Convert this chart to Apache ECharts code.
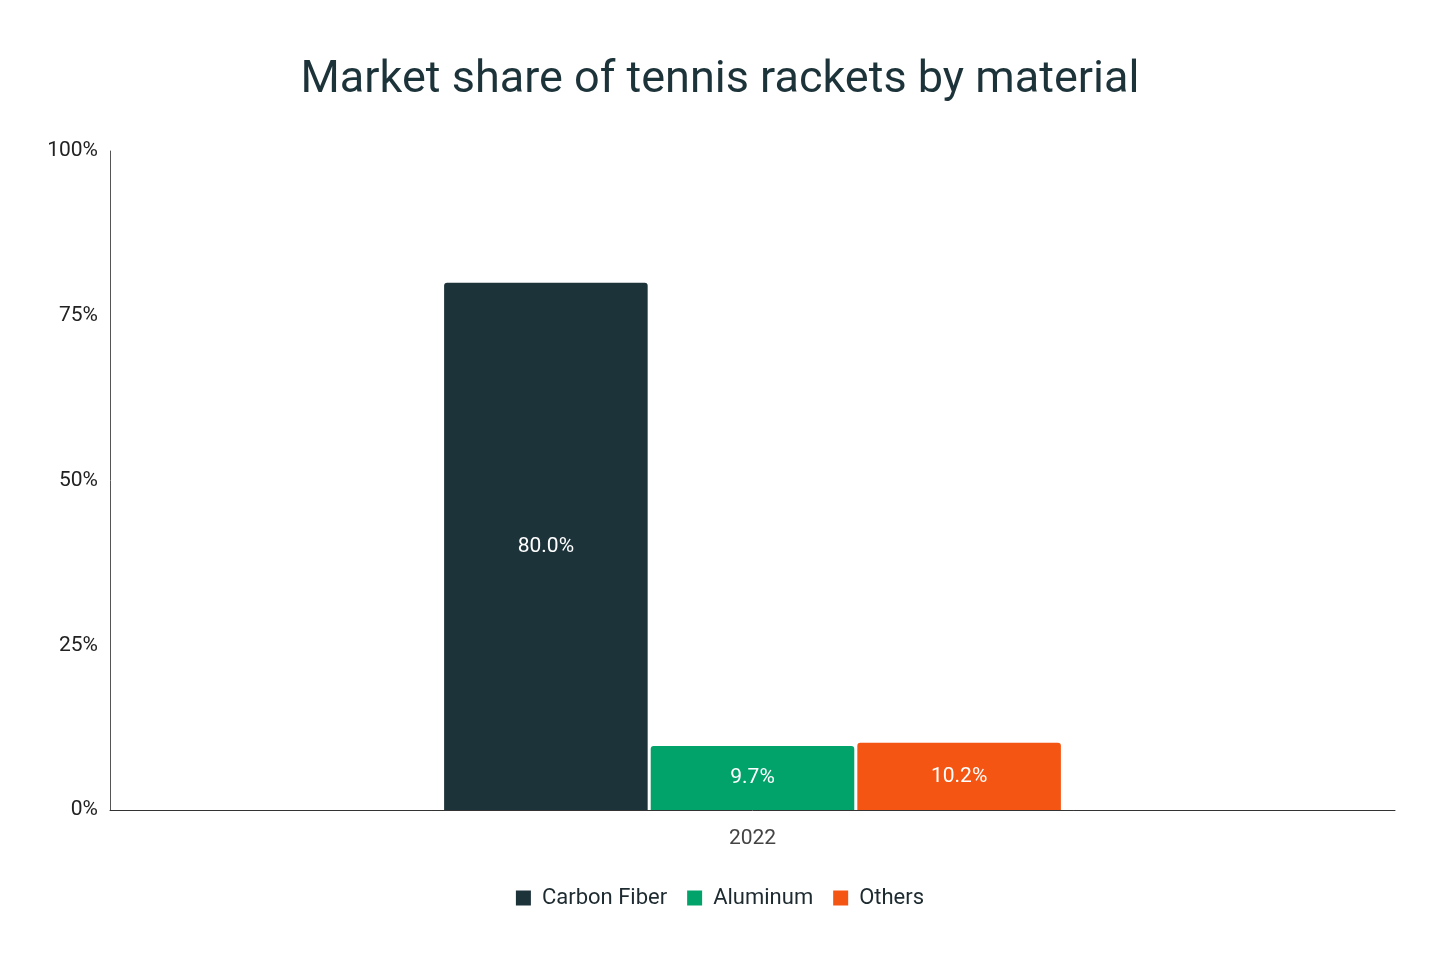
<!DOCTYPE html>
<html>
<head>
<meta charset="utf-8">
<title>Market share of tennis rackets by material</title>
<script src="https://cdn.jsdelivr.net/npm/echarts@6/dist/echarts.min.js"></script>
<style>
  html, body { margin: 0; padding: 0; background: #fff; }
  #chart { width: 1440px; height: 960px; }
</style>
</head>
<body>
<div id="chart"></div>
<script>
// data
var years = ['2022'];
var materials = ['Carbon Fiber', 'Aluminum', 'Others'];
var shares = [[80.0], [9.7], [10.2]];
var colors = ['#1d333a', '#02a36b', '#f55513'];
var yTicks = [0, 25, 50, 75, 100];

var chart = echarts.init(document.getElementById('chart'));

var series = materials.map(function (name, i) {
  return {
    name: name,
    type: 'bar',
    data: shares[i],
    barGap: '1.5%',
    barCategoryGap: '52%',
    itemStyle: { color: colors[i], borderRadius: [3, 3, 0, 0] },
    label: {
      show: true,
      position: 'inside',
      color: '#fff',
      fontSize: 21,
      fontFamily: 'Roboto',
      padding: [4, 0, 0, 0],
      formatter: function (p) { return p.value.toFixed(1) + '%'; }
    }
  };
});

chart.setOption({
  animation: false,
  color: colors,
  title: {
    text: 'Market share of tennis rackets by material',
    left: 'center',
    top: 53,
    textStyle: { fontSize: 45, fontWeight: 'normal', color: '#1d333a', fontFamily: 'Roboto' }
  },
  legend: {
    bottom: 46,
    left: 'center',
    icon: 'rect',
    itemWidth: 15,
    itemHeight: 15,
    itemGap: 20,
    textStyle: { fontSize: 22, color: '#1d2a30', fontFamily: 'Roboto', padding: [0, 0, 0, 6] }
  },
  grid: { left: 110, right: 45, top: 151, bottom: 150 },
  xAxis: {
    type: 'category',
    data: years,
    axisLine: { lineStyle: { color: '#333', width: 1 } },
    axisTick: { show: false },
    axisLabel: { fontSize: 21, color: '#444', margin: 18, fontFamily: 'Roboto' }
  },
  yAxis: {
    type: 'value',
    min: yTicks[0],
    max: yTicks[yTicks.length - 1],
    interval: 25,
    axisLine: { show: true, lineStyle: { color: '#555', width: 1 } },
    axisTick: { show: false },
    splitLine: { show: false },
    axisLabel: {
      fontSize: 21, color: '#222', margin: 12, fontFamily: 'Roboto',
      padding: [8, 0, 0, 0], formatter: '{value}%'
    }
  },
  series: series
});
</script>
</body>
</html>
